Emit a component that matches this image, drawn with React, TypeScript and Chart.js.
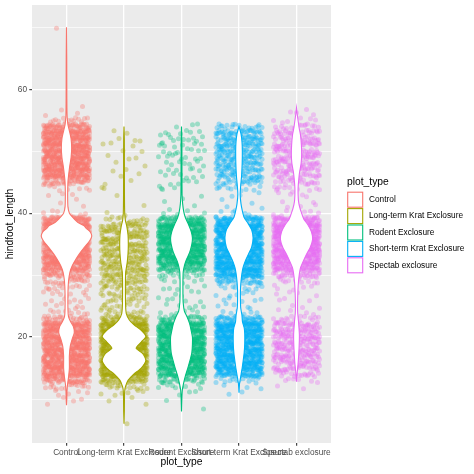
import { useEffect, useRef } from "react";
import { Chart, registerables } from "chart.js";

Chart.register(...registerables);

const FONT = "'Liberation Sans', Arial, Helvetica, sans-serif";

const CATEGORIES = [
  "Control",
  "Long-term Krat Exclosure",
  "Rodent Exclosure",
  "Short-term Krat Exclosure",
  "Spectab exclosure",
];
const COLORS = ["#F8766D", "#A3A500", "#00BF7D", "#00B0F6", "#E76BF3"];
const Y_TICKS = [10, 20, 30, 40, 50, 60, 70];
const Y_LABELS = [20, 40, 60];

// hindfoot_length value -> number of observations (read from the jitter clouds)
const CONTROL_COUNTS = [[9,1],[10,3],[11,5],[12,14],[13,45],[14,80],[15,85],[16,85],[17,85],[18,85],[19,85],[20,85],[21,85],[22,80],[23,28],[24,9],[25,6],[26,6],[27,8],[28,12],[29,20],[30,38],[31,65],[32,80],[33,85],[34,85],[35,85],[36,85],[37,85],[38,85],[39,65],[40,6],[41,2],[42,2],[43,3],[44,7],[45,35],[46,75],[47,85],[48,85],[49,85],[50,85],[51,85],[52,85],[53,80],[54,55],[55,14],[56,2],[57,2],[70,1]];
const LONGTERM_COUNTS = [[6,1],[9,1],[10,2],[11,6],[12,15],[13,40],[14,75],[15,85],[16,85],[17,85],[18,85],[19,85],[20,85],[21,85],[22,75],[23,38],[24,14],[25,12],[26,14],[27,16],[28,20],[29,25],[30,30],[31,32],[32,32],[33,32],[34,32],[35,32],[36,32],[37,32],[38,28],[39,12],[40,2],[41,1],[43,1],[44,2],[45,2],[46,2],[47,2],[48,2],[49,3],[50,2],[51,3],[52,3],[53,2]];
const RODENT_COUNTS = [[8,1],[10,1],[11,3],[12,8],[13,25],[14,60],[15,80],[16,85],[17,85],[18,85],[19,85],[20,85],[21,85],[22,75],[23,30],[24,6],[25,5],[26,5],[27,4],[28,5],[29,6],[30,14],[31,45],[32,75],[33,85],[34,85],[35,85],[36,85],[37,85],[38,85],[39,50],[40,4],[41,2],[42,2],[43,1],[44,4],[45,5],[46,6],[47,6],[48,7],[49,7],[50,8],[51,8],[52,8],[53,7],[54,3]];
const SHORTTERM_COUNTS = [[11,2],[12,3],[13,12],[14,55],[15,80],[16,85],[17,85],[18,85],[19,85],[20,85],[21,85],[22,85],[23,40],[24,6],[25,5],[26,5],[27,6],[28,10],[29,30],[30,70],[31,85],[32,85],[33,85],[34,85],[35,85],[36,85],[37,85],[38,85],[39,60],[40,5],[41,2],[42,2],[43,3],[44,10],[45,22],[46,30],[47,32],[48,35],[49,35],[50,38],[51,38],[52,38],[53,35],[54,18]];
const SPECTAB_COUNTS = [[12,2],[13,6],[14,18],[15,28],[16,32],[17,35],[18,35],[19,35],[20,38],[21,38],[22,32],[23,15],[24,4],[25,3],[26,3],[27,4],[28,5],[29,10],[30,30],[31,55],[32,70],[33,80],[34,85],[35,85],[36,85],[37,85],[38,80],[39,55],[40,8],[41,3],[42,3],[43,5],[44,10],[45,18],[46,25],[47,28],[48,30],[49,30],[50,30],[51,30],[52,28],[53,25],[54,15],[55,6],[56,3],[57,1]];

// violin outline: [hindfoot_length, half width in category units]
const CONTROL_VIOLIN = [[9,0],[10,0.006],[11.5,0.01],[12.5,0.02],[13.5,0.035],[15,0.05],[17,0.05],[18.5,0.065],[19.7,0.1],[20.7,0.135],[21.7,0.12],[22.5,0.07],[23.3,0.035],[24.5,0.025],[27,0.025],[29,0.035],[30.5,0.06],[31.5,0.1],[32.5,0.16],[33.5,0.23],[34.5,0.31],[35.5,0.4],[36.3,0.44],[37,0.41],[37.5,0.35],[38,0.3],[38.5,0.2],[39,0.14],[39.5,0.09],[40,0.05],[41,0.025],[43,0.02],[45,0.025],[46,0.035],[47.5,0.055],[49,0.08],[50.5,0.09],[52,0.08],[53.3,0.05],[54.3,0.025],[55.5,0.012],[57,0.008],[60,0.006],[65,0.005],[70,0]];
const LONGTERM_VIOLIN = [[6,0],[8,0.006],[10,0.008],[11.3,0.012],[12,0.025],[13,0.07],[14,0.17],[15,0.3],[16.2,0.38],[17.3,0.33],[18.2,0.21],[19.2,0.3],[20.1,0.38],[21.1,0.3],[22,0.17],[22.8,0.09],[23.8,0.04],[25,0.028],[27,0.025],[29,0.025],[30.5,0.03],[32,0.055],[33.5,0.07],[35,0.075],[36.5,0.07],[37.8,0.05],[38.8,0.025],[40,0.012],[43,0.008],[48,0.007],[52,0.006],[54,0]];
const RODENT_VIOLIN = [[8,0],[10,0.006],[11.5,0.015],[12.5,0.035],[13.8,0.07],[15,0.11],[16.3,0.15],[17.5,0.18],[18.8,0.19],[20,0.19],[21.2,0.165],[22.2,0.14],[23.2,0.1],[24.2,0.05],[25.5,0.03],[27,0.025],[29,0.025],[30.5,0.03],[31.5,0.05],[32.5,0.085],[33.6,0.14],[35,0.18],[36,0.19],[37,0.17],[38.2,0.12],[39.2,0.07],[40.2,0.04],[41.5,0.02],[43,0.01],[47,0.008],[51,0.007],[54,0]];
const SHORTTERM_VIOLIN = [[11,0],[12.5,0.01],[13.9,0.035],[15,0.055],[16,0.07],[17.5,0.09],[19,0.1],[20.5,0.1],[21.5,0.09],[22.5,0.06],[23.6,0.05],[24.7,0.03],[26,0.025],[27.5,0.025],[29,0.035],[30.2,0.05],[31.2,0.07],[32.3,0.11],[33.3,0.16],[34.5,0.22],[36,0.245],[37.3,0.22],[38.3,0.16],[39.3,0.09],[40.3,0.06],[41.5,0.035],[43,0.02],[44.5,0.03],[46,0.045],[48,0.055],[50,0.058],[51.5,0.052],[52.8,0.035],[54,0]];
const SPECTAB_VIOLIN = [[12.8,0],[14,0.01],[16,0.03],[18.3,0.045],[20.4,0.05],[22.5,0.035],[24,0.02],[25.5,0.018],[27.5,0.025],[29,0.035],[30.2,0.05],[31.2,0.07],[32.3,0.12],[33.3,0.17],[34.5,0.24],[35.8,0.28],[37,0.26],[38.1,0.2],[39,0.13],[39.7,0.1],[40.8,0.06],[41.9,0.035],[43,0.028],[44.1,0.028],[45.5,0.04],[46.7,0.055],[48,0.08],[49.5,0.09],[51,0.085],[52.6,0.07],[53.8,0.045],[54.8,0.03],[56,0.012],[57,0]];

// fixed jitter offsets (hand-typed, shuffled steps), like geom_jitter width/height 0.4
const JITTER_X_STEPS = [-19,7,-3,15,-11,2,21,-8,12,-16,5,-1,18,-13,9,-21,11,-5,16,-10,3,22,-15,8,-2,14,-23,4,-9,19,-14,0,17,-6,10,-18,6,-4,23,-12,13,-17,1,20,-7,-20,-22];
const JITTER_Y_STEPS = [5,-11,9,-2,13,-7,1,-14,7,-4,11,-9,3,-1,12,-6,6,-10,2,-13,10,-3,14,-8,4,-12,8,-5,0];

const COUNTS = [CONTROL_COUNTS, LONGTERM_COUNTS, RODENT_COUNTS, SHORTTERM_COUNTS, SPECTAB_COUNTS];
const VIOLINS = [CONTROL_VIOLIN, LONGTERM_VIOLIN, RODENT_VIOLIN, SHORTTERM_VIOLIN, SPECTAB_VIOLIN];

function rgba(hex: string, a: number) {
  const n = parseInt(hex.slice(1), 16);
  return `rgba(${(n >> 16) & 255},${(n >> 8) & 255},${n & 255},${a})`;
}

function buildJitter() {
  let k = 0;
  return COUNTS.map((counts, gi) => {
    const pts: { x: number; y: number }[] = [];
    for (const [v, n] of counts) {
      for (let j = 0; j < n; j++, k++) {
        const jx = JITTER_X_STEPS[k % JITTER_X_STEPS.length] / 23;
        const jy = JITTER_Y_STEPS[k % JITTER_Y_STEPS.length] / 14;
        pts.push({ x: gi + 1 + 0.4 * jx, y: v + 0.4 * jy });
      }
    }
    return pts;
  });
}

function buildViolin(profile: number[][], center: number) {
  const right = profile.map(([y, w]) => ({ x: center + w, y }));
  const left = profile.slice().reverse().map(([y, w]) => ({ x: center - w, y }));
  return [...right, ...left];
}

const panelBg = {
  id: "panelBg",
  beforeDraw(chart: any) {
    const { ctx, chartArea: a } = chart;
    ctx.save();
    ctx.fillStyle = "#FFFFFF";
    ctx.fillRect(0, 0, chart.width, chart.height);
    ctx.fillStyle = "#EBEBEB";
    ctx.fillRect(a.left, a.top, a.right - a.left, a.bottom - a.top);
    ctx.restore();
  },
};

const ggLegend = {
  id: "ggLegend",
  afterDraw(chart: any) {
    const { ctx, chartArea: a } = chart;
    const x0 = a.right + 16;
    const key = 16.4;
    const top = (a.top + a.bottom) / 2 - 49;
    ctx.save();
    ctx.textAlign = "left";
    ctx.textBaseline = "middle";
    ctx.fillStyle = "#000000";
    ctx.font = `10.3px ${FONT}`;
    ctx.fillText("plot_type", x0, top + 7.5);
    ctx.font = `8.3px ${FONT}`;
    CATEGORIES.forEach((c, i) => {
      const cy = top + 16.5 + key * i + key / 2;
      ctx.fillStyle = "#FFFFFF";
      ctx.fillRect(x0 + 0.7, cy - 7.5, 15, 15);
      ctx.strokeStyle = COLORS[i];
      ctx.lineWidth = 1.1;
      ctx.strokeRect(x0 + 0.7, cy - 7.5, 15, 15);
      ctx.fillStyle = "#000000";
      ctx.fillText(c, x0 + 22, cy);
    });
    ctx.restore();
  },
};

export default function App() {
  const ref = useRef<HTMLCanvasElement | null>(null);

  useEffect(() => {
    document.body.style.margin = "0";
    if (!ref.current) return;
    const jitter = buildJitter();
    const violinSets = VIOLINS.map((p, i) => ({
      type: "scatter" as const,
      label: CATEGORIES[i] + " violin",
      data: buildViolin(p, i + 1),
      showLine: true,
      indexAxis: "y" as const,
      fill: "shape",
      backgroundColor: "#FFFFFF",
      borderColor: COLORS[i],
      borderWidth: 1.1,
      pointRadius: 0,
      pointHoverRadius: 0,
      tension: 0.2,
      order: 0,
    }));
    const pointSets = jitter.map((pts, i) => ({
      type: "scatter" as const,
      label: CATEGORIES[i],
      data: pts,
      showLine: false,
      pointRadius: 2.5,
      pointBorderWidth: 0,
      pointBackgroundColor: rgba(COLORS[i], 0.34),
      backgroundColor: rgba(COLORS[i], 0.34),
      borderColor: "rgba(0,0,0,0)",
      order: 1,
    }));

    Chart.defaults.font.family = FONT;

    const chart = new Chart(ref.current, {
      type: "scatter",
      data: { datasets: [...violinSets, ...pointSets] as any },
      options: {
        animation: false,
        responsive: false,
        events: [],
        layout: { padding: { left: 0, right: 143, top: 5, bottom: 0 } },
        plugins: { legend: { display: false }, tooltip: { enabled: false } },
        scales: {
          x: {
            type: "linear",
            min: 0.4,
            max: 5.6,
            afterBuildTicks: (s: any) => {
              s.ticks = CATEGORIES.map((_, i) => ({ value: i + 1 }));
            },
            afterFit: (s: any) => {
              s.height = 31;
              s.paddingLeft = 0;
              s.paddingRight = 0;
            },
            ticks: {
              autoSkip: false,
              maxRotation: 0,
              minRotation: 0,
              padding: 1.7,
              color: "#4D4D4D",
              font: { size: 8.3, family: FONT },
              callback: (v: any) => CATEGORIES[Math.round(Number(v)) - 1] ?? "",
            },
            grid: {
              color: "#FFFFFF",
              lineWidth: 1.3,
              tickLength: 2.7,
              tickColor: "#333333",
              tickWidth: 1.1,
            },
            border: { display: false },
            title: {
              display: true,
              text: "plot_type",
              color: "#000000",
              font: { size: 10.3, family: FONT },
              padding: { top: 0, bottom: 5.2 },
            },
          },
          y: {
            type: "linear",
            min: 2.9,
            max: 73.6,
            afterBuildTicks: (s: any) => {
              s.ticks = Y_TICKS.map((v) => ({ value: v }));
            },
            afterFit: (s: any) => {
              s.width = 32;
              s.paddingTop = 0;
              s.paddingBottom = 0;
            },
            ticks: {
              padding: 2.2,
              color: "#4D4D4D",
              font: { size: 8.3, family: FONT },
              callback: (v: any) => (Y_LABELS.includes(Number(v)) ? String(v) : ""),
            },
            grid: {
              color: "#FFFFFF",
              lineWidth: (c: any) => (Y_LABELS.includes(c.tick?.value) ? 1.3 : 0.65),
              tickLength: 2.7,
              tickColor: (c: any) => (Y_LABELS.includes(c.tick?.value) ? "#333333" : "rgba(0,0,0,0)"),
              tickWidth: 1.1,
            },
            border: { display: false },
            title: {
              display: true,
              text: "hindfoot_length",
              color: "#000000",
              font: { size: 10.3, family: FONT },
              padding: { top: 3.5, bottom: 0 },
            },
          },
        },
      } as any,
      plugins: [panelBg, ggLegend],
    });
    return () => chart.destroy();
  }, []);

  return (
    <div style={{ width: 474, height: 474 }}>
      <canvas ref={ref} width={474} height={474} style={{ display: "block" }} />
    </div>
  );
}
